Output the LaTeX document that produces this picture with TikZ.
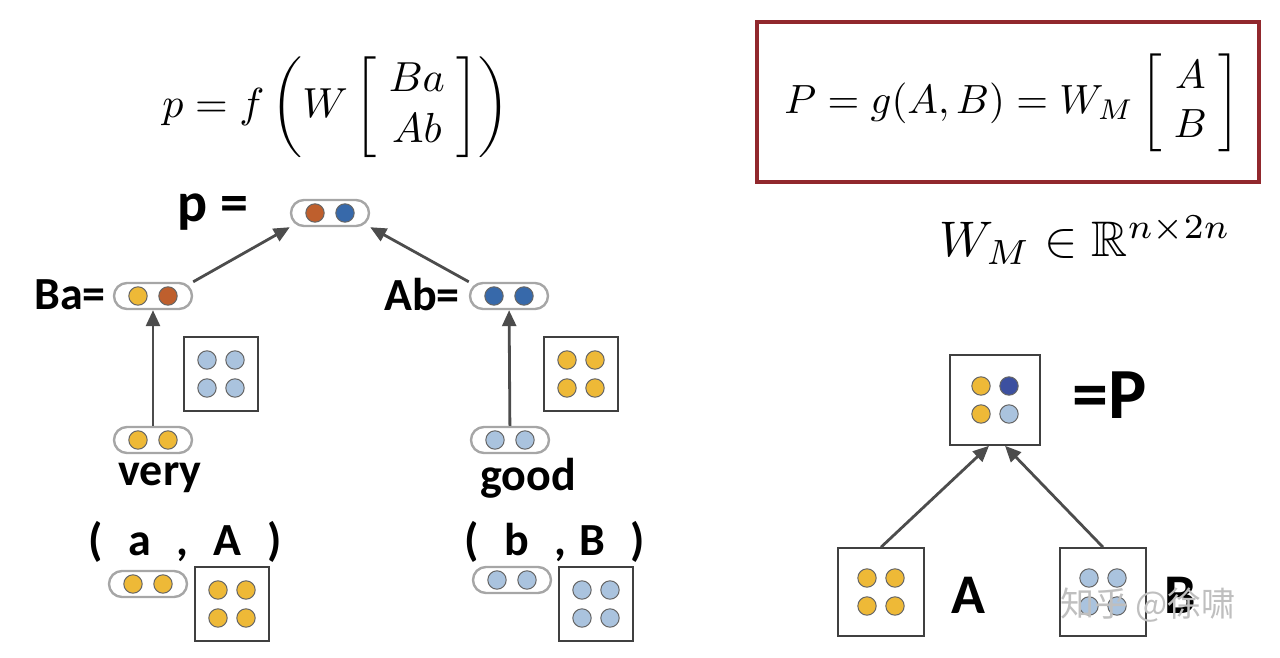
\documentclass[tikz,border=0pt]{standalone}
\usepackage{fontspec}
\usepackage{amsmath,amssymb}
\setsansfont{Carlito}
\newfontfamily\cjk{Noto Sans CJK SC}
\usetikzlibrary{arrows.meta}
\definecolor{dy}{RGB}{238,185,55}
\definecolor{db}{RGB}{190,95,45}
\definecolor{dbl}{RGB}{55,105,170}
\definecolor{ddb}{RGB}{60,80,160}
\definecolor{lb}{RGB}{170,195,222}
\definecolor{frame}{RGB}{145,40,45}
\tikzset{
 pill/.style={draw=gray!70,line width=1.2pt,rounded corners=6.5pt,minimum width=39pt,minimum height=13pt,inner sep=0pt},
 sq/.style={draw=black!75,line width=0.8pt,minimum width=37pt,minimum height=37pt,inner sep=0pt},
 lbl/.style={font=\sffamily\bfseries\fontsize{23}{26}\selectfont,inner sep=0pt},
 arr/.style={-{Triangle[length=8pt,width=7pt]},draw=black!70,line width=1.4pt}
}
\newcommand{\dt}[3]{\fill[#3,draw=black!60,line width=0.5pt] (#1,#2) circle (4.6pt);}
\newcommand{\pilldots}[4]{\dt{#1-15}{#2}{#3}\dt{#1+15}{#2}{#4}}
\newcommand{\sqdots}[6]{\dt{#1-14}{#2-14}{#3}\dt{#1+14}{#2-14}{#4}\dt{#1-14}{#2+14}{#5}\dt{#1+14}{#2+14}{#6}}
\begin{document}
\begin{tikzpicture}[x=0.5pt,y=-0.5pt]
\useasboundingbox (0,0) rectangle (1280,658);
\node[scale=2.1] (f1) at (336,107) {$p=f\left(W\begin{bmatrix}\;Ba\;\\\;Ab\;\end{bmatrix}\right)$};
\node[draw=frame,line width=1.6pt,minimum width=251pt,minimum height=80pt] (fb) at (1008,102) {};
\node[scale=2.04] (f2) at (1012,103) {$P=g(A,B)=W_M\begin{bmatrix}\;A\;\\\;B\;\end{bmatrix}$};
\node[scale=2.5] (f3) at (1085,240) {$W_M\in\mathbb{R}^{n\times 2n}$};
% tree
\node[pill] (p) at (330,213) {}; \pilldots{330}{213}{db}{dbl}
\node[lbl,font=\sffamily\bfseries\fontsize{28}{30}\selectfont] (pl) at (213,212) {p =};
\node[pill] (ba) at (153,296) {}; \pilldots{153}{296}{dy}{db}
\node[lbl] (bal) at (70,295) {Ba=};
\node[pill] (ab) at (509,296) {}; \pilldots{509}{296}{dbl}{dbl}
\node[lbl] (abl) at (422,295) {Ab=};
\draw[arr] (ba.north east) -- (p.south west);
\draw[arr] (ab.north west) -- (p.south east);
\node[sq] (s1) at (221,374) {}; \sqdots{221}{374}{lb}{lb}{lb}{lb}
\node[sq] (s2) at (581,374) {}; \sqdots{581}{374}{dy}{dy}{dy}{dy}
\node[pill] (v) at (153,440) {}; \pilldots{153}{440}{dy}{dy}
\node[pill] (g) at (510,440) {}; \pilldots{510}{440}{lb}{lb}
\draw[arr] (v) -- (ba);
\draw[arr] (g) -- (ab);
\node[lbl] (vl) at (160,478) {very};
\node[lbl] (gl) at (528,478) {good};
\node[lbl] (aa) at (185,542) {(\;\;a\;\;,\;\;A\;\;)};
\node[lbl] (bb) at (555,542) {(\;\;b\;\;,\;B\;\;)};
\node[pill] (v2) at (148,584) {}; \pilldots{148}{584}{dy}{dy}
\node[sq] (s3) at (232,604) {}; \sqdots{232}{604}{dy}{dy}{dy}{dy}
\node[pill] (g2) at (512,580) {}; \pilldots{512}{580}{lb}{lb}
\node[sq] (s4) at (596,604) {}; \sqdots{596}{604}{lb}{lb}{lb}{lb}
% right
\node[sq,minimum width=45pt,minimum height=45pt] (P) at (995,400) {}; \sqdots{995}{400}{dy}{ddb}{dy}{lb}
\node[lbl,font=\sffamily\bfseries\fontsize{36}{38}\selectfont] (Pl) at (1110,395) {=P};
\node[sq,minimum width=43pt,minimum height=44pt] (A) at (881,592) {}; \sqdots{881}{592}{dy}{dy}{dy}{dy}
\node[sq,minimum width=43pt,minimum height=44pt] (B) at (1103,592) {}; \sqdots{1103}{592}{lb}{lb}{lb}{lb}
\node[lbl,font=\sffamily\bfseries\fontsize{28}{30}\selectfont] (Al) at (968,595) {A};
\node[lbl,font=\sffamily\bfseries\fontsize{28}{30}\selectfont] (Bl) at (1180,595) {B};
\draw[arr] (A.north) -- ([xshift=-3]P.south);
\draw[arr] (B.north) -- ([xshift=5]P.south);
\node[text=black!25,font=\cjk\fontsize{17}{19}\selectfont] (wm) at (1148,605) {知乎 @徐啸};
\end{tikzpicture}
\end{document}
